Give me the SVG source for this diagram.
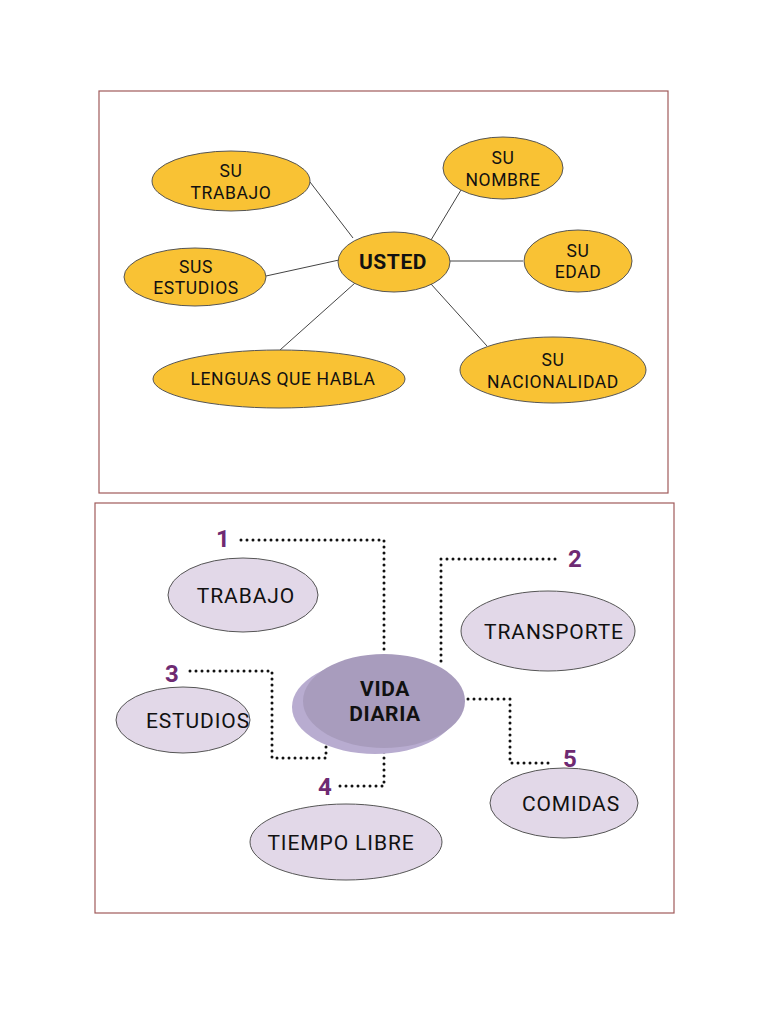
<svg xmlns="http://www.w3.org/2000/svg" width="768" height="1024" viewBox="0 0 768 1024">
<style>
.frame{fill:#fff;stroke:#a05a5a;stroke-width:1.2}
.y{fill:#f9c234;stroke:#555;stroke-width:1}
.p{fill:#e2d8e8;stroke:#555;stroke-width:1}
.t{font-family:Roboto,"DejaVu Sans",sans-serif;font-size:17.5px;letter-spacing:0.6px;fill:#111;text-anchor:middle}
.tb{font-family:Roboto,"DejaVu Sans",sans-serif;font-size:21px;letter-spacing:0.6px;font-weight:bold;fill:#111;text-anchor:middle}
.t2{font-family:Roboto,"DejaVu Sans",sans-serif;font-size:21px;letter-spacing:0.9px;fill:#111;text-anchor:middle}
.n{font-family:Roboto,"DejaVu Sans",sans-serif;font-size:24px;font-weight:bold;fill:#6e2a72;text-anchor:middle}
.ln{stroke:#444;stroke-width:1;fill:none}
.dot{stroke:#111;stroke-width:3;fill:none;stroke-linecap:round;stroke-dasharray:0 6}
</style>
<rect width="768" height="1024" fill="#fff"/>
<rect class="frame" x="99" y="91" width="569" height="402"/>
<rect class="frame" x="95" y="503" width="579" height="410"/>
<g id="connectors-top">
<line class="ln" x1="310" y1="182" x2="353" y2="238"/>
<line class="ln" x1="266" y1="276" x2="339" y2="260"/>
<line class="ln" x1="280" y1="350" x2="355" y2="283"/>
<line class="ln" x1="461" y1="190" x2="431" y2="240"/>
<line class="ln" x1="450" y1="261" x2="523" y2="261"/>
<line class="ln" x1="431" y1="284" x2="487" y2="346"/>
</g>
<g id="n-trabajo"><ellipse class="y" cx="231" cy="181" rx="79" ry="30"/><text class="t" x="231" y="177">SU</text><text class="t" x="231" y="199">TRABAJO</text></g>
<g id="n-nombre"><ellipse class="y" cx="503" cy="168" rx="60" ry="31"/><text class="t" x="503" y="164">SU</text><text class="t" x="503" y="186">NOMBRE</text></g>
<g id="n-usted"><ellipse class="y" cx="394" cy="262" rx="56" ry="30"/><text class="tb" x="393" y="269">USTED</text></g>
<g id="n-estudios"><ellipse class="y" cx="195" cy="277" rx="71" ry="29"/><text class="t" x="196" y="273">SUS</text><text class="t" x="196" y="294">ESTUDIOS</text></g>
<g id="n-edad"><ellipse class="y" cx="578" cy="261" rx="54" ry="31"/><text class="t" x="578" y="257">SU</text><text class="t" x="578" y="278">EDAD</text></g>
<g id="n-lenguas"><ellipse class="y" cx="279" cy="379" rx="126" ry="29"/><text class="t" x="283" y="385">LENGUAS QUE HABLA</text></g>
<g id="n-nacionalidad"><ellipse class="y" cx="553" cy="370" rx="93" ry="33"/><text class="t" x="553" y="366">SU</text><text class="t" x="553" y="388">NACIONALIDAD</text></g>

<g id="connectors-bottom">
<polyline class="dot" points="241,540 384,540 384,650"/>
<polyline class="dot" points="441,661 441,559 558,559"/>
<polyline class="dot" points="190,671 272,671 272,758 326,758 326,731"/>
<polyline class="dot" points="340,786 384,786 384,748"/>
<polyline class="dot" points="468,699 510,699 510,763 552,763"/>
</g>
<g id="n-1"><text class="n" x="223" y="547">1</text></g>
<g id="n-2"><text class="n" x="575" y="567">2</text></g>
<g id="n-3"><text class="n" x="172" y="682">3</text></g>
<g id="n-4"><text class="n" x="325" y="795">4</text></g>
<g id="n-5"><text class="n" x="570" y="767">5</text></g>
<g id="b-trabajo"><ellipse class="p" cx="243" cy="595" rx="75" ry="37"/><text class="t2" x="246" y="603">TRABAJO</text></g>
<g id="b-transporte"><ellipse class="p" cx="548" cy="631" rx="87" ry="40"/><text class="t2" x="554" y="639">TRANSPORTE</text></g>
<g id="b-estudios"><ellipse class="p" cx="183" cy="720" rx="67" ry="33"/><text class="t2" x="198" y="728">ESTUDIOS</text></g>
<g id="b-tiempo"><ellipse class="p" cx="346" cy="842" rx="96" ry="38"/><text class="t2" x="341" y="850">TIEMPO LIBRE</text></g>
<g id="b-comidas"><ellipse class="p" cx="564" cy="803" rx="74" ry="35"/><text class="t2" x="571" y="811">COMIDAS</text></g>
<g id="b-vida">
<ellipse cx="375" cy="707" rx="83" ry="47" fill="#b8acd0"/>
<ellipse cx="384" cy="701" rx="81" ry="47" fill="#a89cbd"/>
<text class="tb" x="385" y="696">VIDA</text>
<text class="tb" x="385" y="721">DIARIA</text>
</g>
</svg>
